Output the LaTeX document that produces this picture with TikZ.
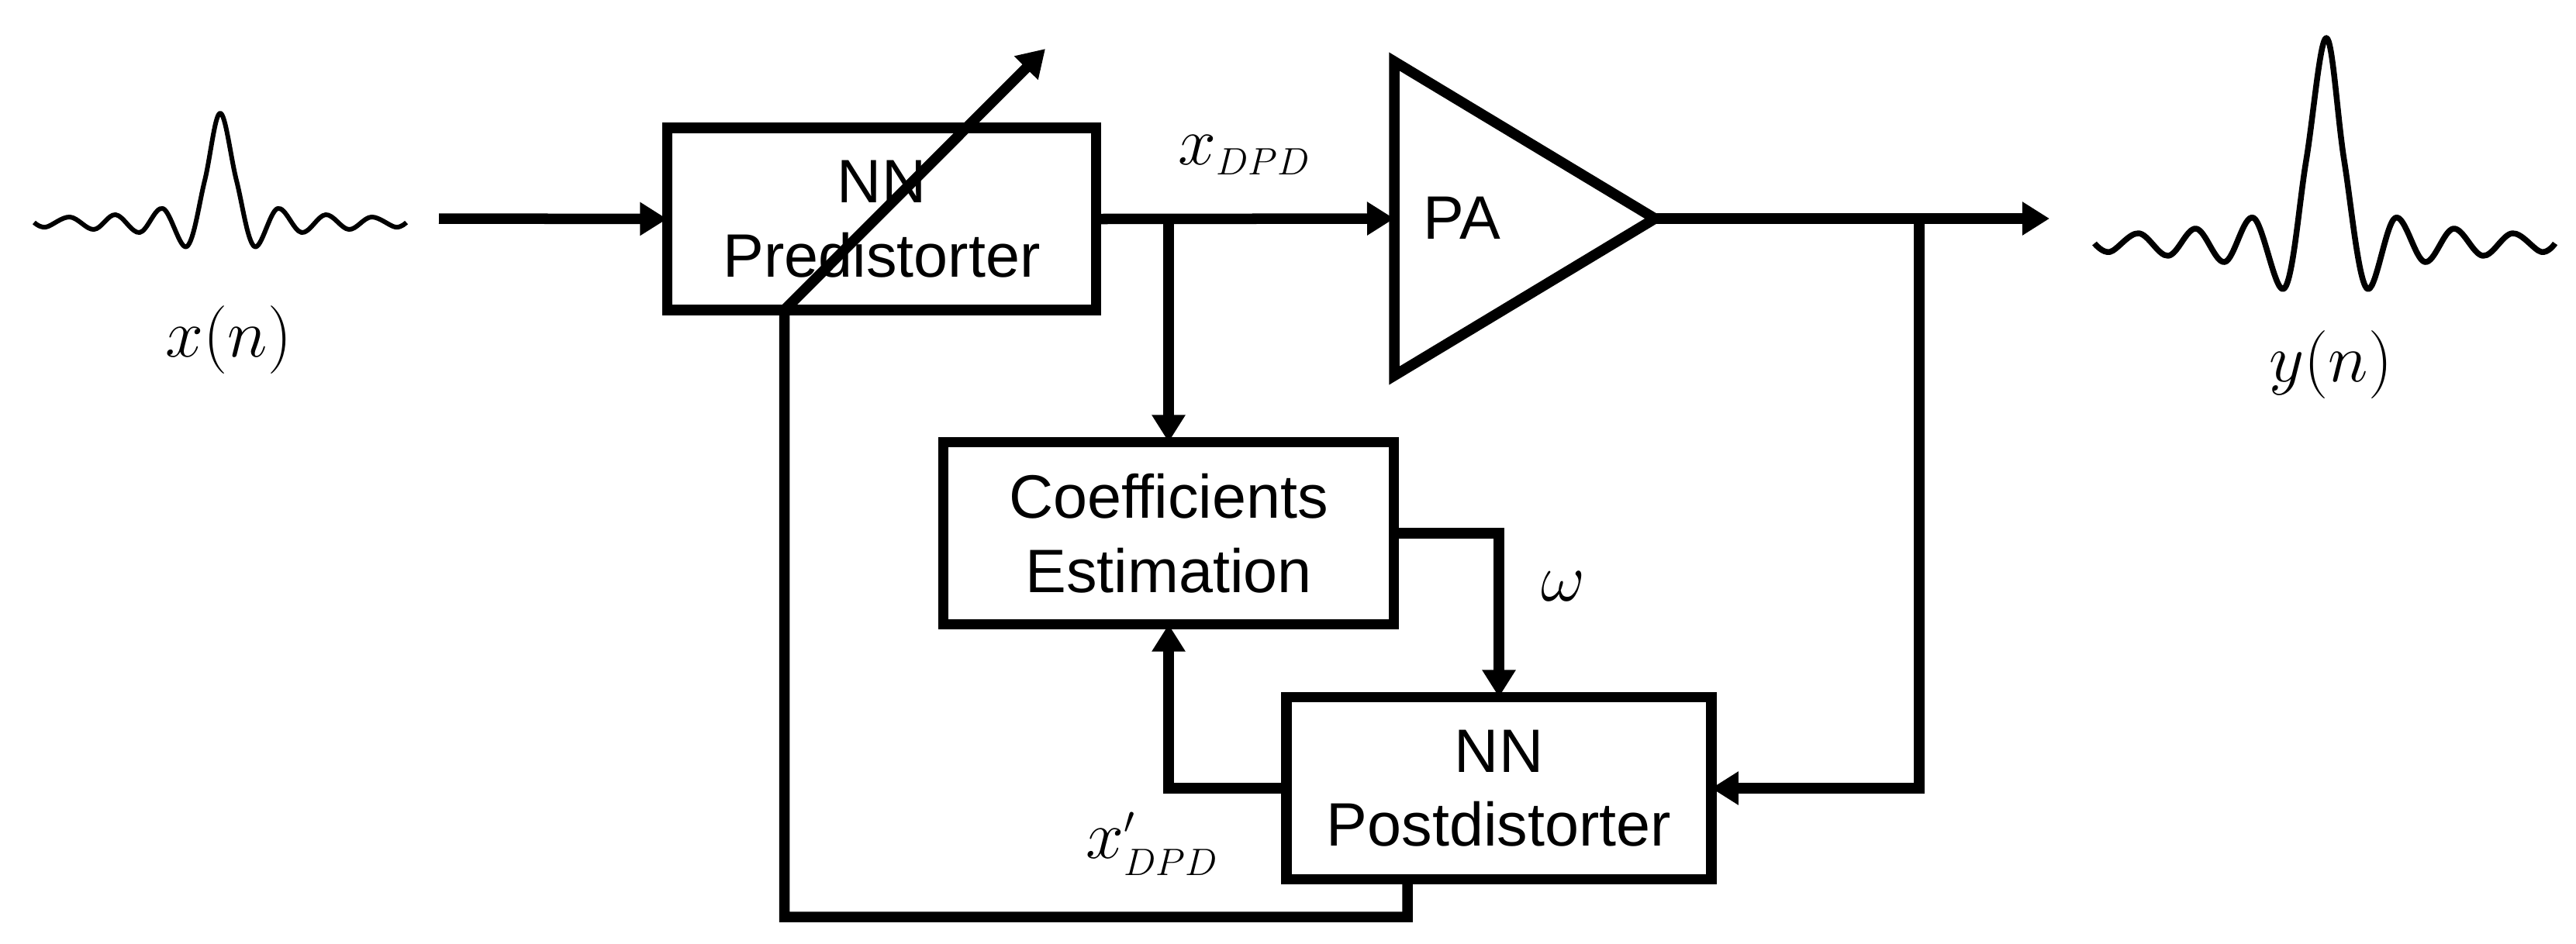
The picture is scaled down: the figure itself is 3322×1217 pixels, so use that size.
\RequirePackage{fix-cm}
\documentclass[tikz,border=0pt]{standalone}
\usepackage{fontspec}
\setmainfont{Liberation Sans}
\DeclareMathSizes{25}{25}{14}{10}
\usetikzlibrary{arrows.meta, shapes.geometric}
\begin{document}
\begin{tikzpicture}[auto, x=0.01cm, y=-0.01cm, >={Triangle[length=0.35cm, width=0.41cm]},
  main line/.style={line width=0.135cm},
  main box/.style={rectangle, draw, line width=0.135cm, inner sep=0pt, outer sep=0pt, minimum width=#1, minimum height=2.35cm, align=center, font=\fontsize{22.5}{27.2}\selectfont},
  math label/.style={inner sep=0pt, font=\fontsize{25}{27}\selectfont}]
\useasboundingbox (0,0) rectangle (3322,1217);
\draw[line width=0.06cm, line join=round] plot[smooth, tension=0.6] coordinates {(44,287) (59,293) (90,280) (121,296) (149,277) (180,300) (210,269) (241,318) (264,233) (284,146) (305,233) (328,318) (358,269) (389,300) (420,277) (450,296) (479,280) (510,293) (524,287)};
\draw[line width=0.075cm, line join=round] plot[smooth, tension=0.6] coordinates {(2701,314) (2721,325) (2758,301) (2796,330) (2832,295) (2869,338) (2906,281) (2946,372) (2974,207) (3000,49) (3023,207) (3052,372) (3089,281) (3127,338) (3164,295) (3202,330) (3240,301) (3277,325) (3295,314)};
\node[math label] (xn) at (295,439) {$x(n)$};
\node[math label] (yn) at (3006,471) {$y(n)$};
\node[main box=5.53cm] (pred) at (1137,282.5) {NN\\Predistorter};
\node[main box=5.805cm] (coef) at (1507,688) {Coefficients\\Estimation};
\node[main box=5.475cm] (post) at (1933,1017) {NN\\Postdistorter};
\node[isosceles triangle, draw, line width=0.135cm, inner sep=0pt, outer sep=0pt, isosceles triangle stretches=true, minimum width=4.05cm, minimum height=3.36cm, anchor=lower side] (tri) at (1798,282) {};
\node[inner sep=0pt, font=\fontsize{22.5}{27.2}\selectfont] (pa) at (1885,281) {PA};
\coordinate (in) at (566,282);
\coordinate (out) at (2643,282);
\coordinate (branch) at (2475,282);
\coordinate (drop) at (1815,1183);
\coordinate (corner) at (1011.5,1183);
\coordinate (tune) at (1011.5,400);
\coordinate (tip) at (1348,63);
\draw[main line, ->] (in) -- (pred.west);
\draw[main line, ->] (pred.east) -- (tri.lower side);
\draw[main line, ->] (coef.north |- pred.east) -- (coef.north);
\draw[main line, ->] (tri.apex) -- (out);
\draw[main line, ->] (branch) |- (post.east);
\draw[main line, ->] (coef.east) -| (post.north);
\draw[main line, ->] (post.west) -| (coef.south);
\draw[main line, ->] (drop |- post.south) -- (drop) -- (corner) -- (tune) -- (tip);
\node[math label] (xdpd) at (1605,200) {$x_{DPD}$};
\node[math label] (omega) at (2016,757) {$\omega$};
\node[math label] (xdpdp) at (1486,1089) {$x'_{DPD}$};
\end{tikzpicture}
\end{document}
